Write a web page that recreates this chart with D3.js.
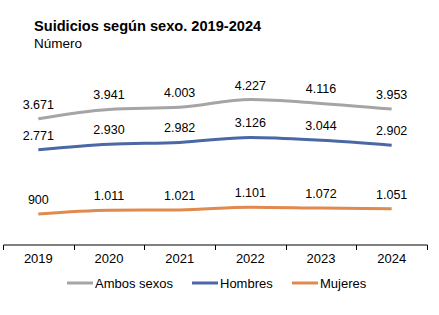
<!DOCTYPE html>
<html>
<head>
<meta charset="utf-8">
<script src="https://cdn.jsdelivr.net/npm/d3@7"></script>
<style>
	body { margin: 0; background: #fff; }
	text { font-family: "Liberation Sans", Arial, sans-serif; fill: #000; }
</style>
</head>
<body>
<div id="chart"></div>
<script>
// data
var years = ['2019', '2020', '2021', '2022', '2023', '2024'];
var ambos = [3671, 3941, 4003, 4227, 4116, 3953];
var hombres = [2771, 2930, 2982, 3126, 3044, 2902];
var mujeres = [900, 1011, 1021, 1101, 1072, 1051];
var seriesNames = ['Ambos sexos', 'Hombres', 'Mujeres'];
var seriesColors = ['#A5A5A5', '#4A68A6', '#E08A4E'];

var series = [ambos, hombres, mujeres].map(function(v, i) {
	return { name: seriesNames[i], color: seriesColors[i], values: v };
});

var width = 439, height = 315;
var svg = d3.select('#chart').append('svg').attr('width', width).attr('height', height);

// title
svg.append('text').attr('x', 34).attr('y', 31)
	.style('font-size', '14.6px').style('font-weight', 'bold')
	.text('Suidicios según sexo. 2019-2024');
svg.append('text').attr('x', 34).attr('y', 48)
	.style('font-size', '13.5px')
	.text('Número');

var xScale = d3.scaleBand().domain(years).range([3, 427]);
var yScale = d3.scaleLinear().domain([0, 5000]).range([245, 73]);

// x axis
var xAxis = d3.axisBottom(xScale).tickSize(0).tickPadding(9);
var gx = svg.append('g').attr('transform', 'translate(0,245)').call(xAxis);
gx.select('.domain').attr('stroke', '#000').attr('d', 'M3.5,0H427.5');
gx.selectAll('text').style('font-size', '13px').style('font-family', '"Liberation Sans", Arial, sans-serif');
// boundary tick marks between categories
var bounds = years.map(function(y) { return xScale(y); }).concat([xScale.range()[1]]);
gx.selectAll('line.bound').data(bounds).enter().append('line')
	.attr('class', 'bound')
	.attr('x1', function(d) { return Math.round(d) + 0.5; })
	.attr('x2', function(d) { return Math.round(d) + 0.5; })
	.attr('y1', 0).attr('y2', 5)
	.attr('stroke', '#000');

var cx = function(d, i) { return xScale(years[i]) + xScale.bandwidth() / 2; };

var line = d3.line()
	.x(function(d, i) { return cx(d, i); })
	.y(function(d) { return yScale(d); })
	.curve(d3.curveMonotoneX);

var fmt = function(v) { return d3.format(',')(v).replace(/,/g, '.'); };

series.forEach(function(s) {
	svg.append('path')
		.datum(s.values)
		.attr('fill', 'none')
		.attr('stroke', s.color)
		.attr('stroke-width', 3)
		.attr('d', line);

	svg.selectAll(null).data(s.values).enter().append('text')
		.attr('x', cx)
		.attr('y', function(d) { return yScale(d) - 10; })
		.attr('text-anchor', 'middle')
		.style('font-size', '12.5px')
		.text(fmt);
});

// legend
var legendX = [67, 192, 292];
var legend = svg.selectAll('g.legend').data(series).enter().append('g')
	.attr('class', 'legend')
	.attr('transform', function(d, i) { return 'translate(' + legendX[i] + ',283)'; });
legend.append('line')
	.attr('x1', 0).attr('x2', 26).attr('y1', 0).attr('y2', 0)
	.attr('stroke', function(d) { return d.color; })
	.attr('stroke-width', 3);
legend.append('text')
	.attr('x', 28).attr('y', 4.5)
	.style('font-size', '13px')
	.text(function(d) { return d.name; });
</script>
</body>
</html>
